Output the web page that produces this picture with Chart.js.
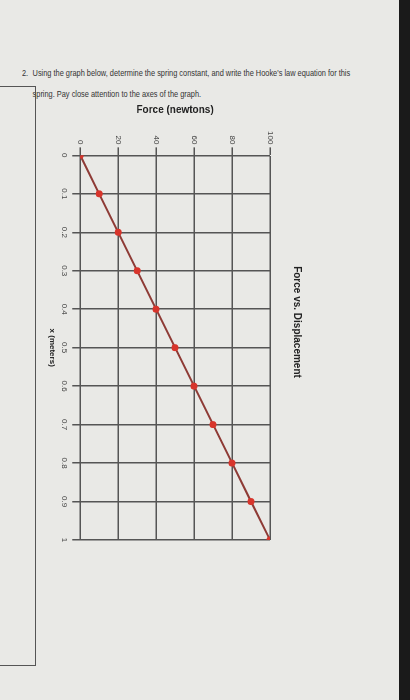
<!DOCTYPE html>
<html>
<head>
<meta charset="utf-8">
<script src="https://cdn.jsdelivr.net/npm/chart.js@4"></script>
<style>
	body { margin: 0; width: 410px; height: 700px; background: #e9e9e6; overflow: hidden; position: relative; font-family: "Liberation Sans", Arial, sans-serif; }
	.question { position: absolute; left: 22px; top: 62px; font-size: 9.8px; color: #333; line-height: 21px; white-space: nowrap; transform: scaleX(0.755); transform-origin: left top; }
	.question .num { position: absolute; left: 0; }
	.question .txt { margin-left: 14px; }
	.box { position: absolute; left: -2px; top: 86px; width: 36px; height: 578px; border: 1.5px solid #555; }
	.strip { position: absolute; left: 399px; top: 0; width: 11px; height: 700px; background: #1a1a1a; }
	.chartWrap { position: absolute; width: 460px; height: 262px; left: -52px; top: 199px; transform: rotate(90deg); }
</style>
</head>
<body>
<div class="question"><span class="num">2.</span><div class="txt">Using the graph below, determine the spring constant, and write the Hooke's law equation for this<br>spring. Pay close attention to the axes of the graph.</div></div>
<div class="box"></div>
<div class="strip"></div>
<div class="chartWrap"><canvas id="chart"></canvas></div>
<script>
const displacement = [0, 0.1, 0.2, 0.3, 0.4, 0.5, 0.6, 0.7, 0.8, 0.9, 1];
const force = [0, 10, 20, 30, 40, 50, 60, 70, 80, 90, 100];

new Chart(document.getElementById('chart'), {
	type: 'line',
	data: {
		datasets: [{
			data: displacement.map((x, i) => ({ x: x, y: force[i] })),
			borderColor: '#8e3b36',
			borderWidth: 2,
			pointBackgroundColor: '#d8352c',
			pointBorderColor: '#d8352c',
			pointRadius: 2.5
		}]
	},
	options: {
		responsive: true,
		maintainAspectRatio: false,
		animation: false,
		layout: { padding: { left: 4, right: 20, top: 2, bottom: 0 } },
		plugins: {
			legend: { display: false },
			title: {
				display: true,
				text: 'Force vs. Displacement',
				color: '#222',
				font: { size: 10, weight: 'bold' },
				padding: { top: 4, bottom: 21 }
			}
		},
		scales: {
			x: {
				type: 'linear',
				min: 0,
				max: 1,
				ticks: { stepSize: 0.1, color: '#444', font: { size: 8 }, callback: v => Math.round(v * 10) / 10 },
				grid: { color: '#555', lineWidth: 1.5 },
				border: { color: '#555' },
				title: { display: true, text: 'x (meters)', color: '#222', font: { size: 8, weight: 'bold' }, padding: 0 }
			},
			y: {
				min: 0,
				max: 100,
				ticks: { stepSize: 20, color: '#444', font: { size: 8 } },
				grid: { color: '#555', lineWidth: 1.5 },
				border: { color: '#555' },
				title: { display: true, text: 'Force (newtons)', color: '#222', font: { size: 10, weight: 'bold' }, padding: { top: 0, bottom: 12 } }
			}
		}
	}
});
</script>
</body>
</html>
